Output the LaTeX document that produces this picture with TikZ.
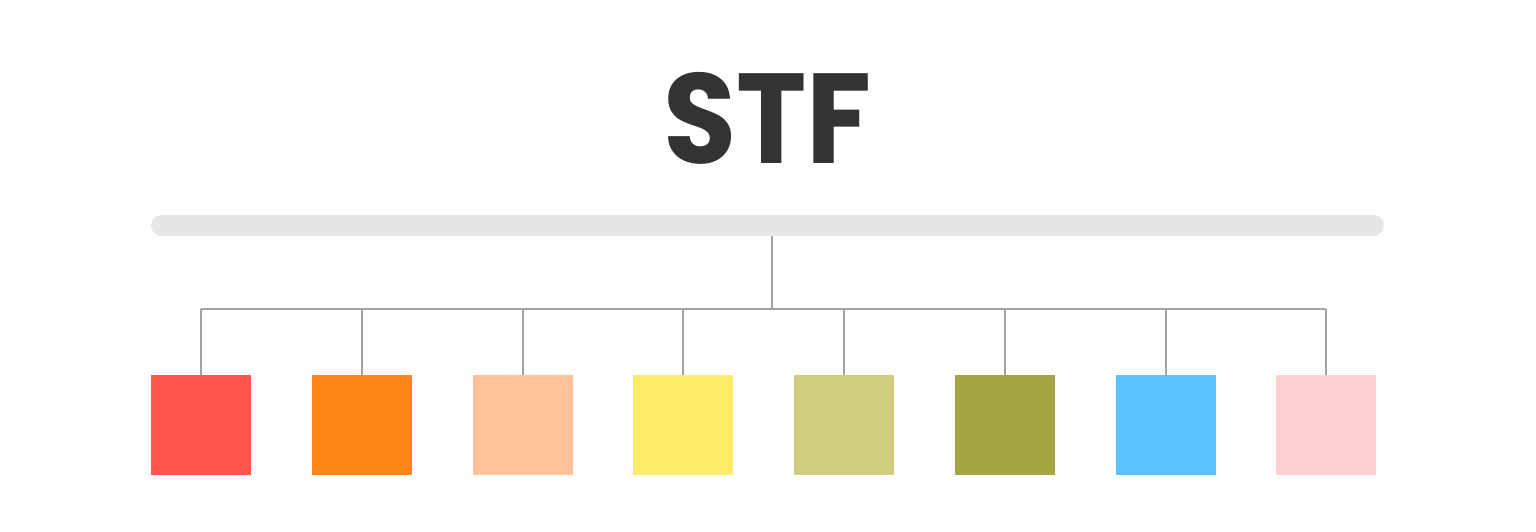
\documentclass[tikz,border=0pt]{standalone}
\usepackage{fontspec}
\newfontfamily\titlefont{Poppins}[UprightFont=* Bold]
\definecolor{titlec}{HTML}{333333}
\definecolor{barc}{HTML}{E6E6E6}
\definecolor{linec}{HTML}{A3A3A3}
\definecolor{c1}{HTML}{FF544D}
\definecolor{c2}{HTML}{FF8717}
\definecolor{c3}{HTML}{FFC299}
\definecolor{c4}{HTML}{FCEC6A}
\definecolor{c5}{HTML}{D1CD7F}
\definecolor{c6}{HTML}{A3A543}
\definecolor{c7}{HTML}{5AC3FF}
\definecolor{c8}{HTML}{FFD1D1}
\tikzset{
  sq/.style={draw=none, inner sep=0pt, minimum width=100pt, minimum height=100pt, anchor=north west},
  conn/.style={draw=linec, line width=1.5pt},
}
\begin{document}
\begin{tikzpicture}[x=1pt,y=-1pt]
\useasboundingbox (0,0) rectangle (1536,531);
\node[anchor=base, text=titlec, inner sep=0pt, xscale=0.93, font=\titlefont\fontsize{128}{128}\selectfont] (title) at (767.5,163) {STF};
\node[fill=barc, draw=none, rounded corners=10.5pt, minimum width=1233pt, minimum height=21pt, inner sep=0pt] (bar) at (767.5,225.5) {};
\node[sq, fill=c1] (b1) at (151,375) {};
\node[sq, fill=c2] (b2) at (312,375) {};
\node[sq, fill=c3] (b3) at (473,375) {};
\node[sq, fill=c4] (b4) at (633,375) {};
\node[sq, fill=c5] (b5) at (794,375) {};
\node[sq, fill=c6] (b6) at (955,375) {};
\node[sq, fill=c7] (b7) at (1116,375) {};
\node[sq, fill=c8] (b8) at (1276,375) {};
\coordinate (st) at (772,236);
\coordinate (hl) at (772,309);
\draw[conn] (st) -- (hl);
\draw[conn] (b1.north |- hl) -- (b8.north |- hl);
\foreach \i in {1,...,8} {
  \draw[conn] (b\i.north |- hl) -- (b\i.north);
}
\end{tikzpicture}
\end{document}
